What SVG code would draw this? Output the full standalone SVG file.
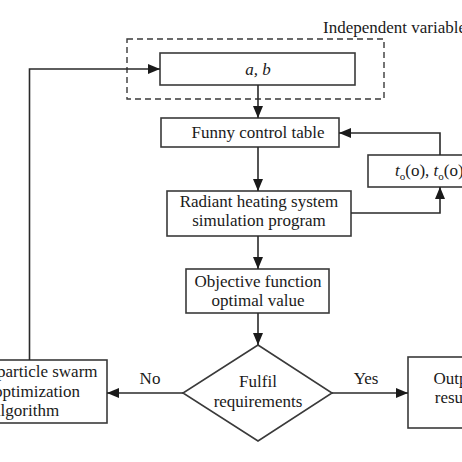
<svg xmlns="http://www.w3.org/2000/svg" width="462" height="462" viewBox="0 0 462 462">
<defs>
<style>
.box{fill:#fff;stroke:#3a3a3a;stroke-width:1.6}
.ln{fill:none;stroke:#2a2a2a;stroke-width:1.6}
text{font-family:"Liberation Serif","Times New Roman",serif;font-size:17px;fill:#1a1a1a}
.c{text-anchor:middle}
</style>
<marker id="ah" viewBox="0 0 12 10" refX="12" refY="5" markerWidth="12" markerHeight="10" markerUnits="userSpaceOnUse" orient="auto">
<path d="M0,0 L12,5 L0,10 z" fill="#1a1a1a"/>
</marker>
</defs>
<rect width="462" height="462" fill="#fff"/>
<g id="indep">
<rect x="127" y="39" width="257" height="60" fill="none" stroke="#3a3a3a" stroke-width="1.4" stroke-dasharray="6,4"/>
<text x="323" y="33">Independent variable</text>
</g>
<g id="ab">
<rect class="box" x="160" y="53" width="195" height="32"/>
<text class="c" x="258" y="75" font-style="italic">a, b</text>
</g>
<g id="funny">
<rect class="box" x="161" y="118" width="178" height="29"/>
<text class="c" x="258" y="138">Funny control table</text>
</g>
<g id="to">
<rect class="box" x="368" y="155" width="110" height="32"/>
<text x="395" y="176"><tspan font-style="italic">t</tspan><tspan font-size="11" dy="4">o</tspan><tspan dy="-4">(o), </tspan><tspan font-style="italic">t</tspan><tspan font-size="11" dy="4">o</tspan><tspan dy="-4">(o)</tspan></text>
</g>
<g id="radiant">
<rect class="box" x="167" y="191" width="184" height="45"/>
<text class="c" x="259" y="207">Radiant heating system</text>
<text class="c" x="259" y="226">simulation program</text>
</g>
<g id="objective">
<rect class="box" x="186" y="269" width="143" height="44"/>
<text class="c" x="258" y="287">Objective function</text>
<text class="c" x="258" y="306">optimal value</text>
</g>
<g id="decision">
<polygon class="box" points="258,345 332,393 258,441 183,393"/>
<text class="c" x="258" y="387">Fulfil</text>
<text class="c" x="258" y="407">requirements</text>
</g>
<g id="pso">
<rect class="box" x="-10" y="360" width="117" height="63"/>
<text x="-3" y="377">particle swarm</text>
<text x="-6" y="397">optimization</text>
<text x="-7" y="416">algorithm</text>
</g>
<g id="output">
<rect class="box" x="408" y="357" width="80" height="71"/>
<text class="c" x="457" y="384">Output</text>
<text class="c" x="457" y="403">results</text>
</g>
<g id="connectors">
<path class="ln" d="M258,85 V118" marker-end="url(#ah)"/>
<path class="ln" d="M258,147 V191" marker-end="url(#ah)"/>
<path class="ln" d="M258,236 V269" marker-end="url(#ah)"/>
<path class="ln" d="M258,313 V345" marker-end="url(#ah)"/>
<path class="ln" d="M183,393 H107" marker-end="url(#ah)"/>
<path class="ln" d="M332,393 H408" marker-end="url(#ah)"/>
<path class="ln" d="M29.5,360 V69 H160" marker-end="url(#ah)"/>
<path class="ln" d="M351,213 H440 V187" marker-end="url(#ah)"/>
<path class="ln" d="M440,155 V133 H339" marker-end="url(#ah)"/>
<text class="c" x="150" y="384">No</text>
<text class="c" x="366" y="384">Yes</text>
</g>
</svg>
